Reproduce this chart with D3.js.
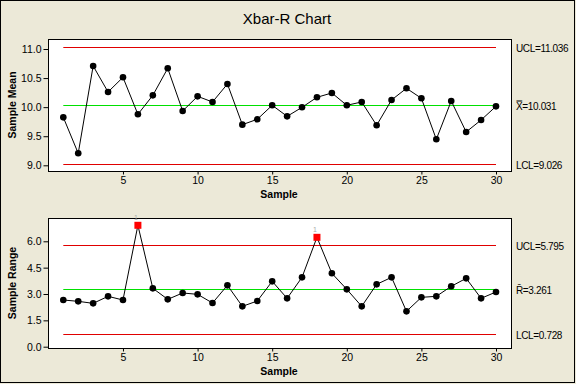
<!DOCTYPE html>
<html>
<head>
<meta charset="utf-8">
<script src="https://cdn.jsdelivr.net/npm/d3@7"></script>
<style>
  body { margin: 0; background: #ece9d8; }
  text { font-family: "Liberation Sans", sans-serif; }
</style>
</head>
<body>
<svg id="chart" width="576" height="384"></svg>
<script>
// sample numbers 1..30
var samples = d3.range(1, 31)

// subgroup means
var means = [9.825, 9.206, 10.708, 10.261, 10.513, 9.877, 10.203, 10.668, 9.934, 10.186,
  10.089, 10.398, 9.699, 9.791, 10.032, 9.842, 9.997, 10.169, 10.244, 10.032,
  10.089, 9.688, 10.123, 10.324, 10.152, 9.447, 10.106, 9.573, 9.779, 10.014]

// subgroup ranges
var ranges = [2.658, 2.582, 2.468, 2.867, 2.658, 6.911, 3.323, 2.696, 3.057, 2.981,
  2.487, 3.493, 2.297, 2.601, 3.721, 2.753, 3.949, 6.227, 4.177, 3.266,
  2.297, 3.550, 3.949, 2.013, 2.810, 2.867, 3.437, 3.892, 2.753, 3.114]

// control limits
var meanLimits = { ucl: 11.036, center: 10.031, lcl: 9.026 }
var rangeLimits = { ucl: 5.795, center: 3.261, lcl: 0.728 }

var meanTicks = [9.0, 9.5, 10.0, 10.5, 11.0]
var rangeTicks = [0.0, 1.5, 3.0, 4.5, 6.0]
var xTicks = [5, 10, 15, 20, 25, 30]

var svg = d3.select("#chart")

// window background + border
svg.append("rect")
  .attr("x", 0.5).attr("y", 0.5).attr("width", 574).attr("height", 382)
  .attr("fill", "#ece9d8").attr("stroke", "#000")

svg.append("text")
  .attr("x", 287).attr("y", 24)
  .attr("text-anchor", "middle")
  .attr("font-family", "DejaVu Sans")
  .attr("font-size", "15px")
  .text("Xbar-R Chart")

var x = d3.scaleLinear().domain([1, 30]).range([63.3, 496])

function drawPanel(opts) {
  var g = svg.append("g")
  var y = d3.scaleLinear().domain(opts.ydomain).range(opts.yrange)

  g.append("rect")
    .attr("x", 48.5).attr("y", opts.top + 0.5)
    .attr("width", 463).attr("height", opts.bottom - opts.top)
    .attr("fill", "#fff").attr("stroke", "#000")

  // y axis
  var yAxis = g.append("g")
    .attr("transform", "translate(48.5,0)")
    .call(d3.axisLeft(y).tickValues(opts.yticks).tickFormat(d3.format(".1f")).tickSize(5).tickSizeOuter(0))
  yAxis.select(".domain").remove()
  yAxis.selectAll("text").attr("font-size", "10.5px").attr("font-family", "Liberation Sans").attr("x", -7)

  // x axis
  var xAxis = g.append("g")
    .attr("transform", "translate(0," + (opts.bottom + 0.5) + ")")
    .call(d3.axisBottom(x).tickValues(xTicks).tickSize(3).tickSizeOuter(0))
  xAxis.select(".domain").remove()
  xAxis.selectAll("text").attr("font-size", "10.5px").attr("font-family", "Liberation Sans").attr("y", 5)

  g.append("text")
    .attr("transform", "translate(16," + ((opts.top + opts.bottom) / 2) + ") rotate(-90)")
    .attr("text-anchor", "middle")
    .attr("font-size", "10.5px").attr("font-weight", "bold")
    .text(opts.ylabel)

  g.append("text")
    .attr("x", 279).attr("y", opts.bottom + 27)
    .attr("text-anchor", "middle")
    .attr("font-size", "10.5px").attr("font-weight", "bold")
    .text("Sample")

  // control lines
  var lines = [
    { v: opts.limits.ucl, color: "#e00000", label: "UCL=" + opts.limits.ucl },
    { v: opts.limits.center, color: "#00e000", label: opts.centerLabel + "=" + opts.limits.center },
    { v: opts.limits.lcl, color: "#e00000", label: "LCL=" + opts.limits.lcl }
  ]
  lines.forEach(function (l) {
    var yy = Math.round(y(l.v)) + 0.5
    g.append("line")
      .attr("x1", x(1)).attr("x2", x(30))
      .attr("y1", yy).attr("y2", yy)
      .attr("stroke", l.color)
    g.append("text")
      .attr("x", 516).attr("y", yy + 4)
      .attr("font-size", "10px")
      .attr("letter-spacing", "-0.35px")
      .text(l.label)
  })

  var line = d3.line()
    .x(function (d, i) { return x(samples[i]) })
    .y(function (d) { return y(d) })
  g.append("path")
    .datum(opts.values)
    .attr("d", line)
    .attr("fill", "none").attr("stroke", "#000").attr("stroke-width", 1)

  opts.values.forEach(function (v, i) {
    var out = v > opts.limits.ucl || v < opts.limits.lcl
    if (out) {
      g.append("rect")
        .attr("x", x(samples[i]) - 3.5).attr("y", y(v) - 3.5)
        .attr("width", 7).attr("height", 7)
        .attr("fill", "#ff0000")
      g.append("text")
        .attr("x", x(samples[i]) - 2).attr("y", y(v) - 5)
        .attr("text-anchor", "middle")
        .attr("font-size", "7px").attr("fill", "#aaa")
        .text("1")
    } else {
      g.append("circle")
        .attr("cx", x(samples[i])).attr("cy", y(v))
        .attr("r", 3.3).attr("fill", "#000")
    }
  })
}

drawPanel({
  top: 39, bottom: 171,
  ydomain: [9, 11], yrange: [165.3, 49],
  yticks: meanTicks, ylabel: "Sample Mean",
  limits: meanLimits, centerLabel: "X\u033F",
  values: means
})

drawPanel({
  top: 218, bottom: 348,
  ydomain: [0, 6], yrange: [346.7, 241.3],
  yticks: rangeTicks, ylabel: "Sample Range",
  limits: rangeLimits, centerLabel: "R\u0304",
  values: ranges
})
</script>
</body>
</html>
